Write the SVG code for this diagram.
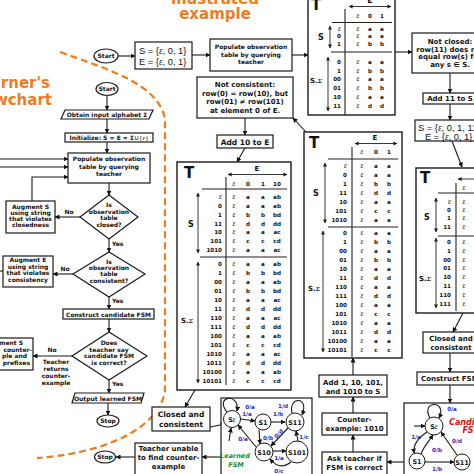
<svg xmlns="http://www.w3.org/2000/svg" width="474" height="474" viewBox="0 0 474 474">
<defs>
<marker id="ah" viewBox="0 0 10 10" refX="9" refY="5" markerWidth="5" markerHeight="5" orient="auto-start-reverse" markerUnits="userSpaceOnUse"><path d="M0,0 L10,5 L0,10 z" fill="#111"/></marker>
<marker id="ah2" viewBox="0 0 10 10" refX="9" refY="5" markerWidth="4" markerHeight="4.5" orient="auto-start-reverse" markerUnits="userSpaceOnUse"><path d="M0,0 L10,5 L0,10 z" fill="#222"/></marker>
</defs>
<style>
.bx{fill:#fff;stroke:#1a1a1a;stroke-width:1.2}
.tb{fill:#fff;stroke:#1a1a1a;stroke-width:1.4}
.ln{fill:none;stroke:#1a1a1a;stroke-width:1.1}
.ar{fill:none;stroke:#1a1a1a;stroke-width:1.1;marker-end:url(#ah)}
.da{fill:none;stroke:#222;stroke-width:0.9;marker-start:url(#ah2);marker-end:url(#ah2)}
.gl{stroke:#222;stroke-width:1.1}
.t6{font-family:"DejaVu Sans",sans-serif;font-weight:bold;font-size:6px;text-anchor:middle;fill:#111}
.t7{font-family:"DejaVu Sans",sans-serif;font-weight:bold;font-size:7px;text-anchor:middle;fill:#111}
.st{font-family:"Liberation Sans",sans-serif;font-size:9.3px;fill:#111}
.tv{font-family:"DejaVu Sans",sans-serif;font-weight:bold;font-size:5.6px;text-anchor:middle;fill:#111}
.tl{font-family:"DejaVu Sans",sans-serif;font-weight:bold;font-size:5.6px;text-anchor:end;fill:#111}
.e{font-family:"Liberation Serif",serif;font-style:italic;font-weight:normal;font-size:7.5px}
.T{font-family:"DejaVu Sans",sans-serif;font-weight:bold;font-size:15px;fill:#111}
.lb{font-family:"DejaVu Sans",sans-serif;font-weight:bold;font-size:8px;text-anchor:middle;fill:#111}
.or{font-family:"DejaVu Sans",sans-serif;font-weight:bold;font-size:15px;fill:#EE7D1E}
.fs{font-family:"DejaVu Sans",sans-serif;font-weight:bold;font-size:6.5px;text-anchor:middle;fill:#111}
.tr{font-family:"DejaVu Sans",sans-serif;font-weight:bold;font-size:5.6px;text-anchor:middle;fill:#2b2bb8}
.st8{fill:#fff;stroke:#1a1a1a;stroke-width:1}
</style>
<rect width="474" height="474" fill="#fff"/>

<g id="titles">
<text class="or" x="215" y="4" text-anchor="middle">illustrated</text>
<text class="or" x="215" y="19" text-anchor="middle">example</text>
<text class="or" x="50" y="88" text-anchor="end">arner's</text>
<text class="or" x="52" y="105" text-anchor="end">wchart</text>
</g>
<path d="M60,52 C110,70 160,85 165,120 L165,390 C162,420 120,452 37,458" fill="none" stroke="#EE7D1E" stroke-width="2.2" stroke-dasharray="7,4"/>

<g id="connectors">
<line class="ar" x1="107" y1="95.5" x2="107" y2="110"/>
<line class="ar" x1="107" y1="119" x2="107" y2="133"/>
<line class="ar" x1="107" y1="142" x2="107" y2="153"/>
<line class="ar" x1="0" y1="159" x2="68" y2="159"/>
<line class="ar" x1="0" y1="167" x2="68" y2="167"/>
<polyline class="ar" points="32,201 32,177 68,177"/>
<line class="ar" x1="109" y1="183" x2="109" y2="195"/>
<line class="ar" x1="80" y1="217" x2="55" y2="217"/>
<line class="ar" x1="109" y1="239" x2="109" y2="252"/>
<line class="ar" x1="73" y1="274" x2="53" y2="274"/>
<line class="ln" x1="0" y1="271" x2="3" y2="271"/>
<line class="ar" x1="109" y1="297" x2="109" y2="309"/>
<line class="ar" x1="109" y1="319" x2="109" y2="332"/>
<line class="ar" x1="72" y1="356" x2="33" y2="356"/>
<line class="ar" x1="109" y1="380" x2="109" y2="393"/>
<line class="ar" x1="108" y1="403" x2="108" y2="415"/>
<line class="ar" x1="118" y1="56" x2="135" y2="56"/>
<line class="ar" x1="192" y1="55" x2="210" y2="55"/>
<line class="ar" x1="292" y1="55" x2="308" y2="55"/>
<line class="ar" x1="395" y1="52" x2="412" y2="52"/>
<line class="ar" x1="450" y1="73" x2="450" y2="93"/>
<line class="ar" x1="450" y1="104" x2="450" y2="120"/>
<line class="ar" x1="452" y1="141" x2="462" y2="167"/>
<line class="ar" x1="463" y1="313" x2="453" y2="332"/>
<line class="ar" x1="450" y1="353" x2="450" y2="372"/>
<line class="ar" x1="450" y1="385" x2="450" y2="403"/>
<line class="ar" x1="404" y1="462" x2="387" y2="462"/>
<line class="ar" x1="353" y1="452" x2="353" y2="435"/>
<line class="ar" x1="353" y1="413" x2="353" y2="397"/>
<line class="ar" x1="353" y1="375" x2="353" y2="358"/>
<line class="ar" x1="306" y1="132" x2="293" y2="118"/>
<line class="ar" x1="245" y1="118" x2="245" y2="135"/>
<line class="ar" x1="245" y1="148" x2="237" y2="162"/>
<line class="ar" x1="195" y1="390" x2="185" y2="407"/>
<line class="ar" x1="210" y1="427" x2="225" y2="424"/>
<line class="ar" x1="221" y1="457" x2="202" y2="457"/>
<line class="ar" x1="135" y1="457" x2="116" y2="457"/>
</g>

<g id="lf-start"><ellipse class="bx" cx="107" cy="89" rx="11" ry="6.5"/><text class="t6" x="107" y="91">Start</text></g>
<g id="lf-obtain"><polygon class="bx" points="65,110 153,110 149,119 61,119"/><text class="t6" x="107" y="117">Obtain input alphabet Σ</text></g>
<g id="lf-init"><rect class="bx" x="65" y="133" width="88" height="9"/><text class="t6" x="109" y="140">Initialize: S = E = Σ<tspan font-weight="normal" font-family="Liberation Serif,serif" font-size="7">∪{<tspan font-style="italic">ε</tspan>}</tspan></text></g>
<g id="lf-populate"><rect class="bx" x="68" y="153" width="82" height="30"/><text class="t6" x="109" y="161">Populate observation</text><text class="t6" x="109" y="168.5">table by querying</text><text class="t6" x="109" y="176">teacher</text></g>
<g id="lf-closed"><polygon class="bx" points="109,195 138,217 109,239 80,217"/><text class="t6" x="109" y="207">Is</text><text class="t6" x="109" y="213.5">observation</text><text class="t6" x="109" y="220">table</text><text class="t6" x="109" y="226.5">closed?</text></g>
<text class="t6" x="69" y="214">No</text>
<text class="t6" x="112" y="246" style="text-anchor:start">Yes</text>
<g id="lf-augS"><rect class="bx" x="6" y="201" width="49" height="32"/><text class="t6" x="30.5" y="208.5">Augment S</text><text class="t6" x="30.5" y="214.5">using string</text><text class="t6" x="30.5" y="220.5">that violates</text><text class="t6" x="30.5" y="227">closedness</text></g>
<g id="lf-consistent"><polygon class="bx" points="109,252 145,274 109,297 73,274"/><text class="t6" x="109" y="263.5">Is</text><text class="t6" x="109" y="269.5">observation</text><text class="t6" x="109" y="276">table</text><text class="t6" x="109" y="282.5">consistent?</text></g>
<text class="t6" x="65" y="271">No</text>
<text class="t6" x="112" y="303" style="text-anchor:start">Yes</text>
<g id="lf-augE"><rect class="bx" x="3" y="256" width="50" height="31"/><text class="t6" x="28" y="262">Augment E</text><text class="t6" x="28" y="268.5">using string</text><text class="t6" x="28" y="275">that violates</text><text class="t6" x="28" y="281.5">consistency</text></g>
<g id="lf-construct"><rect class="bx" x="63" y="309" width="91" height="10"/><text class="t6" x="108.5" y="316.5">Construct candidate FSM</text></g>
<g id="lf-correct"><polygon class="bx" points="109,332 147,356 109,380 72,356"/><text class="t6" x="109" y="345">Does</text><text class="t6" x="109" y="351.5">teacher say</text><text class="t6" x="109" y="358">candidate FSM</text><text class="t6" x="109" y="364.5">is correct?</text></g>
<text class="t6" x="52" y="352">No</text>
<text class="t6" x="56" y="364">Teacher</text><text class="t6" x="56" y="371">returns</text><text class="t6" x="56" y="378">counter-</text><text class="t6" x="56" y="385">example</text>
<text class="t6" x="112" y="386" style="text-anchor:start">Yes</text>
<g id="lf-augSce"><rect class="bx" x="-10" y="338" width="43" height="32"/><text class="t6" x="23" y="345" style="text-anchor:end">ment S</text><text class="t6" x="32" y="351.7" style="text-anchor:end">counter-</text><text class="t6" x="27" y="358.4" style="text-anchor:end">ple and</text><text class="t6" x="30" y="365" style="text-anchor:end">prefixes</text></g>
<g id="lf-output"><polygon class="bx" points="75,393 144,393 141,403 72,403"/><text class="t6" x="108" y="400.5">Output learned FSM</text></g>
<g id="lf-stop"><ellipse class="bx" cx="108" cy="421" rx="11" ry="6"/><text class="t6" x="108" y="423">Stop</text></g>

<g id="ex-start"><ellipse class="bx" cx="106" cy="56" rx="12" ry="7"/><text class="t6" x="106" y="58">Start</text></g>
<g id="ex-init"><rect class="bx" x="135" y="42" width="57" height="27"/><text class="st" x="139" y="53.5">S = {<tspan font-family="Liberation Serif,serif" font-style="italic">ε</tspan>, 0, 1}</text><text class="st" x="139" y="65">E = {<tspan font-family="Liberation Serif,serif" font-style="italic">ε</tspan>, 0, 1}</text></g>
<g id="ex-populate"><rect class="bx" x="210" y="39" width="82" height="32"/><text class="t6" x="251" y="49">Populate observation</text><text class="t6" x="251" y="56.5">table by querying</text><text class="t6" x="251" y="64">teacher</text></g>

<g id="table1">
<rect class="tb" x="308" y="-3" width="87" height="118"/>
<text class="T" x="311" y="10">T</text>
<text class="lb" x="370" y="3">E</text>
<line class="da" x1="349" y1="6.5" x2="391" y2="6.5"/>
<line class="gl" x1="345" y1="9" x2="345" y2="115"/>
<line class="gl" x1="332" y1="22.5" x2="392" y2="22.5"/>
<line class="gl" x1="331" y1="52" x2="392" y2="52"/>
<text class="tv" y="18"><tspan class="e" x="358">ε</tspan><tspan x="370">0</tspan><tspan x="382">1</tspan></text>
<line class="da" x1="330" y1="26" x2="330" y2="48"/><text class="lb" x="321" y="39.5">S</text>
<line class="da" x1="328" y1="57" x2="328" y2="111"/><text class="lb" x="316" y="83" style="font-size:7px">S.<tspan font-family="Liberation Serif,serif" font-style="italic">Σ</tspan></text>
<text class="tl" x="341" y="30.5"><tspan class="e">ε</tspan></text><text class="tv" y="30.5"><tspan class="e" x="358">ε</tspan><tspan x="370">a</tspan><tspan x="382">a</tspan></text>
<text class="tl" x="341" y="38">0</text><text class="tv" y="38"><tspan class="e" x="358">ε</tspan><tspan x="370">a</tspan><tspan x="382">a</tspan></text>
<text class="tl" x="341" y="45.5">1</text><text class="tv" y="45.5"><tspan class="e" x="358">ε</tspan><tspan x="370">b</tspan><tspan x="382">b</tspan></text>
<text class="tl" x="341" y="64">0</text><text class="tv" y="64"><tspan class="e" x="358">ε</tspan><tspan x="370">a</tspan><tspan x="382">a</tspan></text>
<text class="tl" x="341" y="72.5">1</text><text class="tv" y="72.5"><tspan class="e" x="358">ε</tspan><tspan x="370">b</tspan><tspan x="382">b</tspan></text>
<text class="tl" x="341" y="81">00</text><text class="tv" y="81"><tspan class="e" x="358">ε</tspan><tspan x="370">a</tspan><tspan x="382">a</tspan></text>
<text class="tl" x="341" y="90">01</text><text class="tv" y="90"><tspan class="e" x="358">ε</tspan><tspan x="370">b</tspan><tspan x="382">b</tspan></text>
<text class="tl" x="341" y="99">10</text><text class="tv" y="99"><tspan class="e" x="358">ε</tspan><tspan x="370">a</tspan><tspan x="382">a</tspan></text>
<text class="tl" x="341" y="108">11</text><text class="tv" y="108"><tspan class="e" x="358">ε</tspan><tspan x="370">d</tspan><tspan x="382">d</tspan></text>
</g>

<g id="ex-notclosed"><rect class="bx" x="412" y="33" width="70" height="40"/><text class="t7" x="450" y="44">Not closed:</text><text class="t7" x="450" y="51.5">row(11) does not</text><text class="t7" x="450" y="59">equal row(s) for</text><text class="t7" x="450" y="67">any s ∈ S.</text></g>
<g id="ex-add11"><rect class="bx" x="423" y="93" width="58" height="11"/><text class="t7" x="450" y="101">Add 11 to S</text></g>
<g id="ex-set2"><rect class="bx" x="415" y="120" width="66" height="21"/><text class="st" x="418" y="130.5">S = {<tspan font-family="Liberation Serif,serif" font-style="italic">ε</tspan>, 0, 1, 11}</text><text class="st" x="425" y="139.5">E = {<tspan font-family="Liberation Serif,serif" font-style="italic">ε</tspan>, 0, 1}</text></g>

<g id="table3">
<rect class="tb" x="416" y="168" width="70" height="145"/>
<text class="T" x="420" y="183">T</text>
<line class="da" x1="458" y1="179" x2="500" y2="179"/>
<line class="gl" x1="456" y1="183" x2="456" y2="311"/>
<line class="gl" x1="438" y1="193" x2="480" y2="193"/>
<line class="gl" x1="438" y1="236" x2="480" y2="236"/>
<text class="tv" y="190"><tspan class="e" x="464">ε</tspan></text>
<line class="da" x1="436" y1="198" x2="436" y2="232"/><text class="lb" x="427" y="220">S</text>
<line class="da" x1="436" y1="238" x2="436" y2="308"/><text class="lb" x="425" y="281" style="font-size:7px">S.<tspan font-family="Liberation Serif,serif" font-style="italic">Σ</tspan></text>
<text class="tl" x="451" y="204"><tspan class="e">ε</tspan></text><text class="tv" y="204"><tspan class="e" x="464">ε</tspan></text>
<text class="tl" x="451" y="212">0</text><text class="tv" y="212"><tspan class="e" x="464">ε</tspan></text>
<text class="tl" x="451" y="220">1</text><text class="tv" y="220"><tspan class="e" x="464">ε</tspan></text>
<text class="tl" x="451" y="229">11</text><text class="tv" y="229"><tspan class="e" x="464">ε</tspan></text>
<text class="tl" x="451" y="244">0</text><text class="tv" y="244"><tspan class="e" x="464">ε</tspan></text>
<text class="tl" x="451" y="252.8">1</text><text class="tv" y="252.8"><tspan class="e" x="464">ε</tspan></text>
<text class="tl" x="451" y="261.6">00</text><text class="tv" y="261.6"><tspan class="e" x="464">ε</tspan></text>
<text class="tl" x="451" y="270.4">01</text><text class="tv" y="270.4"><tspan class="e" x="464">ε</tspan></text>
<text class="tl" x="451" y="279.2">10</text><text class="tv" y="279.2"><tspan class="e" x="464">ε</tspan></text>
<text class="tl" x="451" y="288">11</text><text class="tv" y="288"><tspan class="e" x="464">ε</tspan></text>
<text class="tl" x="451" y="296.8">110</text><text class="tv" y="296.8"><tspan class="e" x="464">ε</tspan></text>
<text class="tl" x="451" y="305.6">111</text><text class="tv" y="305.6"><tspan class="e" x="464">ε</tspan></text>
</g>

<g id="ex-closed2"><rect class="bx" x="423" y="332" width="58" height="21"/><text class="t7" x="451" y="340.5">Closed and</text><text class="t7" x="451" y="349.5">consistent</text></g>
<g id="ex-construct"><rect class="bx" x="417" y="372" width="64" height="13"/><text class="t7" x="421" y="381" style="text-anchor:start">Construct FSM</text></g>

<g id="ex-candidate">
<rect class="bx" x="404" y="403" width="80" height="80"/>
<path class="ar" d="M430,418 C420,400 448,400 439,418"/>
<text class="tr" x="452" y="411">0/a</text>
<line class="ar" x1="414" y1="426" x2="425" y2="426"/>
<path class="ar" d="M427,432 C418,438 413,445 414,453"/>
<text class="tr" x="416" y="439">1/a</text>
<path class="ar" d="M421,454 C424,446 429,441 433,435"/>
<text class="tr" x="437" y="452">0/b</text>
<line class="ar" x1="457" y1="455" x2="441" y2="432"/>
<text class="tr" x="457" y="443">0/d</text>
<line class="ar" x1="425" y1="462" x2="454" y2="462"/>
<text class="tr" x="437" y="471">1/b</text>
<circle class="st8" cx="434" cy="426" r="9"/><text class="fs" x="434" y="428.5">S<tspan class="e">ε</tspan></text>
<circle class="st8" cx="417" cy="461" r="8"/><text class="fs" x="417" y="463.5">S1</text>
<circle class="st8" cx="462" cy="462" r="8"/><text class="fs" x="462" y="464.5">S11</text>
<circle class="st8" cx="484" cy="462" r="8"/>
<text x="472" y="425" font-family="DejaVu Sans,sans-serif" font-weight="bold" font-style="italic" font-size="8" fill="#e01010" text-anchor="middle">Candidate</text>
<text x="472" y="433" font-family="DejaVu Sans,sans-serif" font-weight="bold" font-style="italic" font-size="8" fill="#e01010" text-anchor="middle">FSM</text>
</g>

<g id="ex-ask"><rect class="bx" x="322" y="452" width="65" height="28"/><text class="t7" x="354.5" y="461">Ask teacher if</text><text class="t7" x="354.5" y="470">FSM is correct</text></g>
<g id="ex-counter"><rect class="bx" x="322" y="413" width="65" height="22"/><text class="t7" x="354.5" y="421.5">Counter-</text><text class="t7" x="354.5" y="430.5">example: 1010</text></g>
<g id="ex-add1010"><rect class="bx" x="319" y="375" width="68" height="22"/><text class="t7" x="353" y="384.5">Add 1, 10, 101,</text><text class="t7" x="353" y="393.5">and 1010 to S</text></g>

<g id="table2">
<rect class="tb" x="304" y="132" width="98" height="226"/>
<text class="T" x="309" y="148">T</text>
<text class="lb" x="375" y="140" style="font-size:7px">E</text>
<line class="da" x1="355" y1="143.5" x2="397" y2="143.5"/>
<line class="gl" x1="352" y1="147" x2="352" y2="357"/>
<line class="gl" x1="328" y1="159" x2="398" y2="159"/>
<line class="gl" x1="328" y1="227" x2="398" y2="227"/>
<text class="tv" y="154"><tspan class="e" x="362">ε</tspan><tspan x="376">0</tspan><tspan x="389">1</tspan></text>
<line class="da" x1="325" y1="163" x2="325" y2="223"/><text class="lb" x="316" y="196">S</text>
<line class="da" x1="323" y1="231" x2="323" y2="352"/><text class="lb" x="314" y="291" style="font-size:7px">S.<tspan font-family="Liberation Serif,serif" font-style="italic">Σ</tspan></text>
<text class="tl" x="347" y="168"><tspan class="e">ε</tspan></text><text class="tv" y="168"><tspan class="e" x="362">ε</tspan><tspan x="376">a</tspan><tspan x="389">a</tspan></text>
<text class="tl" x="347" y="177">0</text><text class="tv" y="177"><tspan class="e" x="362">ε</tspan><tspan x="376">a</tspan><tspan x="389">a</tspan></text>
<text class="tl" x="347" y="186">1</text><text class="tv" y="186"><tspan class="e" x="362">ε</tspan><tspan x="376">b</tspan><tspan x="389">b</tspan></text>
<text class="tl" x="347" y="195">11</text><text class="tv" y="195"><tspan class="e" x="362">ε</tspan><tspan x="376">d</tspan><tspan x="389">d</tspan></text>
<text class="tl" x="347" y="204">10</text><text class="tv" y="204"><tspan class="e" x="362">ε</tspan><tspan x="376">a</tspan><tspan x="389">a</tspan></text>
<text class="tl" x="347" y="213">101</text><text class="tv" y="213"><tspan class="e" x="362">ε</tspan><tspan x="376">c</tspan><tspan x="389">c</tspan></text>
<text class="tl" x="347" y="222">1010</text><text class="tv" y="222"><tspan class="e" x="362">ε</tspan><tspan x="376">a</tspan><tspan x="389">a</tspan></text>
<text class="tl" x="347" y="235">0</text><text class="tv" y="235"><tspan class="e" x="362">ε</tspan><tspan x="376">a</tspan><tspan x="389">a</tspan></text>
<text class="tl" x="347" y="244">1</text><text class="tv" y="244"><tspan class="e" x="362">ε</tspan><tspan x="376">b</tspan><tspan x="389">b</tspan></text>
<text class="tl" x="347" y="253">00</text><text class="tv" y="253"><tspan class="e" x="362">ε</tspan><tspan x="376">a</tspan><tspan x="389">a</tspan></text>
<text class="tl" x="347" y="262">01</text><text class="tv" y="262"><tspan class="e" x="362">ε</tspan><tspan x="376">b</tspan><tspan x="389">b</tspan></text>
<text class="tl" x="347" y="271">10</text><text class="tv" y="271"><tspan class="e" x="362">ε</tspan><tspan x="376">a</tspan><tspan x="389">a</tspan></text>
<text class="tl" x="347" y="280">11</text><text class="tv" y="280"><tspan class="e" x="362">ε</tspan><tspan x="376">d</tspan><tspan x="389">d</tspan></text>
<text class="tl" x="347" y="289">110</text><text class="tv" y="289"><tspan class="e" x="362">ε</tspan><tspan x="376">a</tspan><tspan x="389">a</tspan></text>
<text class="tl" x="347" y="298">111</text><text class="tv" y="298"><tspan class="e" x="362">ε</tspan><tspan x="376">d</tspan><tspan x="389">d</tspan></text>
<text class="tl" x="347" y="307">100</text><text class="tv" y="307"><tspan class="e" x="362">ε</tspan><tspan x="376">a</tspan><tspan x="389">a</tspan></text>
<text class="tl" x="347" y="316">101</text><text class="tv" y="316"><tspan class="e" x="362">ε</tspan><tspan x="376">c</tspan><tspan x="389">c</tspan></text>
<text class="tl" x="347" y="325">1010</text><text class="tv" y="325"><tspan class="e" x="362">ε</tspan><tspan x="376">a</tspan><tspan x="389">a</tspan></text>
<text class="tl" x="347" y="334">1011</text><text class="tv" y="334"><tspan class="e" x="362">ε</tspan><tspan x="376">d</tspan><tspan x="389">d</tspan></text>
<text class="tl" x="347" y="343">10100</text><text class="tv" y="343"><tspan class="e" x="362">ε</tspan><tspan x="376">a</tspan><tspan x="389">a</tspan></text>
<text class="tl" x="347" y="352">10101</text><text class="tv" y="352"><tspan class="e" x="362">ε</tspan><tspan x="376">c</tspan><tspan x="389">c</tspan></text>
</g>

<g id="ex-notconsistent"><rect class="bx" x="197" y="77" width="96" height="41"/><text class="t7" x="245" y="87">Not consistent:</text><text class="t7" x="245" y="95.5">row(0) = row(10), but</text><text class="t7" x="245" y="104">row(01) ≠ row(101)</text><text class="t7" x="245" y="112.5">at element 0 of E.</text></g>
<g id="ex-add10"><rect class="bx" x="217" y="135" width="56" height="13"/><text class="t7" x="245" y="144.5" style="font-size:7.5px">Add 10 to E</text></g>

<g id="table4">
<rect class="tb" x="177" y="162" width="114" height="228"/>
<text class="T" x="184" y="178">T</text>
<text class="lb" x="257" y="171" style="font-size:7px">E</text>
<line class="da" x1="228" y1="174.5" x2="287" y2="174.5"/>
<line class="gl" x1="226" y1="177" x2="226" y2="385"/>
<line class="gl" x1="202" y1="189" x2="287" y2="189"/>
<line class="gl" x1="200" y1="257" x2="287" y2="257"/>
<text class="tv" y="186"><tspan class="e" x="234">ε</tspan><tspan x="248">0</tspan><tspan x="263">1</tspan><tspan x="277">10</tspan></text>
<line class="da" x1="198" y1="193" x2="198" y2="253"/><text class="lb" x="191" y="226.5">S</text>
<line class="da" x1="198" y1="262" x2="198" y2="383"/><text class="lb" x="187" y="323" style="font-size:7px">S.<tspan font-family="Liberation Serif,serif" font-style="italic">Σ</tspan></text>
<text class="tl" x="222" y="199"><tspan class="e">ε</tspan></text><text class="tv" y="199"><tspan class="e" x="234">ε</tspan><tspan x="248">a</tspan><tspan x="263">a</tspan><tspan x="277">ab</tspan></text>
<text class="tl" x="222" y="208">0</text><text class="tv" y="208"><tspan class="e" x="234">ε</tspan><tspan x="248">a</tspan><tspan x="263">a</tspan><tspan x="277">ab</tspan></text>
<text class="tl" x="222" y="216.5">1</text><text class="tv" y="216.5"><tspan class="e" x="234">ε</tspan><tspan x="248">b</tspan><tspan x="263">b</tspan><tspan x="277">bd</tspan></text>
<text class="tl" x="222" y="225.5">11</text><text class="tv" y="225.5"><tspan class="e" x="234">ε</tspan><tspan x="248">d</tspan><tspan x="263">d</tspan><tspan x="277">dd</tspan></text>
<text class="tl" x="222" y="234">10</text><text class="tv" y="234"><tspan class="e" x="234">ε</tspan><tspan x="248">a</tspan><tspan x="263">a</tspan><tspan x="277">ac</tspan></text>
<text class="tl" x="222" y="243">101</text><text class="tv" y="243"><tspan class="e" x="234">ε</tspan><tspan x="248">c</tspan><tspan x="263">c</tspan><tspan x="277">cd</tspan></text>
<text class="tl" x="222" y="252">1010</text><text class="tv" y="252"><tspan class="e" x="234">ε</tspan><tspan x="248">a</tspan><tspan x="263">a</tspan><tspan x="277">ac</tspan></text>
<text class="tl" x="222" y="266">0</text><text class="tv" y="266"><tspan class="e" x="234">ε</tspan><tspan x="248">a</tspan><tspan x="263">a</tspan><tspan x="277">ab</tspan></text>
<text class="tl" x="222" y="275">1</text><text class="tv" y="275"><tspan class="e" x="234">ε</tspan><tspan x="248">b</tspan><tspan x="263">b</tspan><tspan x="277">bd</tspan></text>
<text class="tl" x="222" y="284">00</text><text class="tv" y="284"><tspan class="e" x="234">ε</tspan><tspan x="248">a</tspan><tspan x="263">a</tspan><tspan x="277">ab</tspan></text>
<text class="tl" x="222" y="293">01</text><text class="tv" y="293"><tspan class="e" x="234">ε</tspan><tspan x="248">b</tspan><tspan x="263">b</tspan><tspan x="277">bd</tspan></text>
<text class="tl" x="222" y="302">10</text><text class="tv" y="302"><tspan class="e" x="234">ε</tspan><tspan x="248">a</tspan><tspan x="263">a</tspan><tspan x="277">ac</tspan></text>
<text class="tl" x="222" y="311">11</text><text class="tv" y="311"><tspan class="e" x="234">ε</tspan><tspan x="248">d</tspan><tspan x="263">d</tspan><tspan x="277">dd</tspan></text>
<text class="tl" x="222" y="320">110</text><text class="tv" y="320"><tspan class="e" x="234">ε</tspan><tspan x="248">a</tspan><tspan x="263">a</tspan><tspan x="277">ac</tspan></text>
<text class="tl" x="222" y="329">111</text><text class="tv" y="329"><tspan class="e" x="234">ε</tspan><tspan x="248">d</tspan><tspan x="263">d</tspan><tspan x="277">dd</tspan></text>
<text class="tl" x="222" y="338">100</text><text class="tv" y="338"><tspan class="e" x="234">ε</tspan><tspan x="248">a</tspan><tspan x="263">a</tspan><tspan x="277">ab</tspan></text>
<text class="tl" x="222" y="347">101</text><text class="tv" y="347"><tspan class="e" x="234">ε</tspan><tspan x="248">c</tspan><tspan x="263">c</tspan><tspan x="277">cd</tspan></text>
<text class="tl" x="222" y="356">1010</text><text class="tv" y="356"><tspan class="e" x="234">ε</tspan><tspan x="248">a</tspan><tspan x="263">a</tspan><tspan x="277">ac</tspan></text>
<text class="tl" x="222" y="365">1011</text><text class="tv" y="365"><tspan class="e" x="234">ε</tspan><tspan x="248">d</tspan><tspan x="263">d</tspan><tspan x="277">dd</tspan></text>
<text class="tl" x="222" y="374">10100</text><text class="tv" y="374"><tspan class="e" x="234">ε</tspan><tspan x="248">a</tspan><tspan x="263">a</tspan><tspan x="277">ab</tspan></text>
<text class="tl" x="222" y="383">10101</text><text class="tv" y="383"><tspan class="e" x="234">ε</tspan><tspan x="248">c</tspan><tspan x="263">c</tspan><tspan x="277">cd</tspan></text>
</g>

<g id="ex-closed1"><rect class="bx" x="152" y="407" width="58" height="24"/><text class="t7" x="181" y="417" style="font-size:7.5px">Closed and</text><text class="t7" x="181" y="426.5" style="font-size:7.5px">consistent</text></g>

<g id="ex-learned">
<rect class="bx" x="221" y="398" width="91" height="85"/>
<path class="ar" d="M227,412 C214,396 240,392 237,411"/>
<text class="tr" x="250" y="409">0/a</text>
<line class="ar" x1="240.5" y1="419" x2="255" y2="421"/>
<text class="tr" x="247" y="416">1/a</text>
<line class="ar" x1="271" y1="422" x2="285" y2="422"/>
<text class="tr" x="278" y="416">1/b</text>
<path class="ar" d="M292,413 C288,396 310,396 302,415"/>
<text class="tr" x="283" y="408">1/d</text>
<line class="ar" x1="288" y1="428" x2="271" y2="446"/>
<text class="tr" x="280" y="435" transform="rotate(-45 280 435)">0/d</text>
<line class="ar" x1="259" y1="429.5" x2="260" y2="444"/>
<text class="tr" x="268" y="440">0/b</text>
<line class="ar" x1="256" y1="447" x2="238" y2="425"/>
<text class="tr" x="243" y="441">0/a</text>
<line class="ar" x1="273" y1="451" x2="286" y2="451"/>
<text class="tr" x="279" y="460">1/a</text>
<path class="ar" d="M291,462 Q280,471 270,459"/>
<text class="tr" x="279" y="473">0/c</text>
<line class="ar" x1="298" y1="441" x2="296" y2="431"/>
<text class="tr" x="304" y="439">1/c</text>
<line class="ar" x1="229" y1="441" x2="231" y2="428"/>
<circle class="st8" cx="232" cy="419" r="8.5"/><text class="fs" x="232" y="421.5">S<tspan class="e">ε</tspan></text>
<circle class="st8" cx="263" cy="422" r="8"/><text class="fs" x="263" y="424.5">S1</text>
<circle class="st8" cx="295" cy="422" r="9"/><text class="fs" x="295" y="424.5">S11</text>
<circle class="st8" cx="264" cy="452" r="9"/><text class="fs" x="264" y="454.5">S10</text>
<circle class="st8" cx="297" cy="452" r="11"/><text class="fs" x="297" y="454.5">S101</text>
<text x="235" y="458" font-family="DejaVu Sans,sans-serif" font-weight="bold" font-style="italic" font-size="6.5" fill="#1e8c1e" text-anchor="middle">Learned</text>
<text x="236" y="466.5" font-family="DejaVu Sans,sans-serif" font-weight="bold" font-style="italic" font-size="6.5" fill="#1e8c1e" text-anchor="middle">FSM</text>
</g>

<g id="ex-unable"><rect class="bx" x="135" y="443" width="67" height="37"/><text class="t7" x="168.5" y="451">Teacher unable</text><text class="t7" x="168.5" y="460">to find counter-</text><text class="t7" x="168.5" y="469">example</text></g>
<g id="ex-stop"><ellipse class="bx" cx="105" cy="457" rx="10.5" ry="6"/><text class="t6" x="105" y="459">Stop</text></g>
</svg>
